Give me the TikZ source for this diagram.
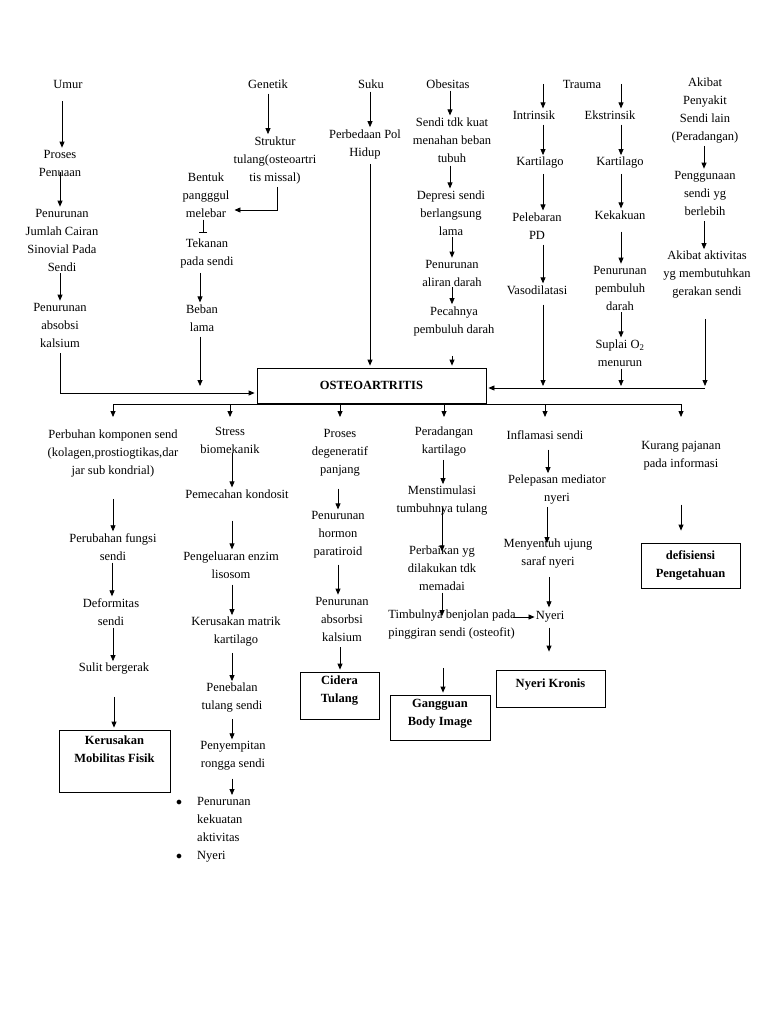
\documentclass[tikz,border=0pt]{standalone}
\usepackage{fontspec}
\setmainfont{Liberation Serif}
\usetikzlibrary{arrows.meta,calc}
\begin{document}
\begin{tikzpicture}[x=1pt,y=-1pt,
  t/.style={font=\fontsize{12.5}{18}\selectfont,align=center,inner sep=0pt},
  bx/.style={t,draw,line width=0.8pt,font=\fontsize{12.5}{18}\selectfont\bfseries},
  arr/.style={line width=0.8pt,-{Triangle[length=6pt,width=5pt]},shorten <=5pt,shorten >=2pt},
  ln/.style={line width=0.8pt}]
\useasboundingbox[fill=white] (0,0) rectangle (768,1024);
% column 1
\node[t] (umur) at (68,84) {Umur};
\node[t] (penuaan) at (60,163) {Proses\\Penuaan};
\node[t] (cairan) at (62,240) {Penurunan\\Jumlah Cairan\\Sinovial Pada\\Sendi};
\node[t] (absobsi) at (60,325) {Penurunan\\absobsi\\kalsium};
% genetik
\node[t] (genetik) at (268,84) {Genetik};
\node[t] (struktur) at (275,160) {Struktur\\tulang(osteoartri\\tis missal)};
\node[t] (bentuk) at (206,195) {Bentuk\\pangggul\\melebar};
\node[t] (tekanan) at (207,253) {Tekanan\\pada sendi};
\node[t] (beban) at (202,318) {Beban\\lama};
% suku
\node[t] (suku) at (371,84) {Suku};
\node[t] (pola) at (365,144) {Perbedaan Pol\\Hidup};
% box
\node[bx,minimum width=229,minimum height=35] (osteo) at (371.5,385.5) {OSTEOARTRITIS};
\coordinate (rl) at (0,388);
\coordinate (ll) at (0,393);
% obesitas
\node[t] (obes) at (448,84) {Obesitas};
\node[t] (tdkkuat) at (452,140) {Sendi tdk kuat\\menahan beban\\tubuh};
\node[t] (depresi) at (451,213) {Depresi sendi\\berlangsung\\lama};
\node[t] (aliran) at (452,273) {Penurunan\\aliran darah};
\node[t] (pecah) at (454,321) {Pecahnya\\pembuluh darah};
% trauma
\node[t] (trauma) at (582,84) {Trauma};
\coordinate (tri) at (543,84);
\coordinate (tre) at (621,84);
\node[t] (intr) at (534,115) {Intrinsik};
\node[t] (ekst) at (610,115) {Ekstrinsik};
\node[t] (kart1) at (540,163) {Kartilago};
\node[t] (kart2) at (620,163) {Kartilago};
\node[t] (pelebaran) at (537,226) {Pelebaran\\PD};
\node[t] (kekakuan) at (620,215) {Kekakuan};
\node[t] (vaso) at (537,290) {Vasodilatasi};
\node[t] (pembuluh) at (620,288) {Penurunan\\pembuluh\\darah};
\node[t] (suplai) at (620,353) {Suplai O\textsubscript{2}\\menurun};
% akibat
\node[t] (akibat) at (705,111) {Akibat\\Penyakit\\Sendi lain\\(Peradangan)};
\node[t] (guna) at (705,193) {Penggunaan\\sendi yg\\berlebih};
\node[t] (aktiv) at (707,275) {Akibat aktivitas\\yg membutuhkan\\gerakan sendi};
% top arrows
\draw[arr,shorten <=13pt] (umur.south -| cairan) -- (penuaan.north -| cairan);
\draw[arr,shorten <=-4pt] (penuaan.south) -- (cairan.north -| penuaan);
\draw[arr,shorten <=2pt] (cairan.south -| absobsi) -- (absobsi.north);
\draw[ln,shorten <=6pt] (absobsi.south) -- (absobsi.south |- ll);
\draw[arr,shorten <=0pt] (absobsi.south |- ll) -- ($(osteo.west)+(0,7.5)$);
\draw[arr] (beban.south -| 200,0) -- (200,388);
\draw[arr] (genetik.south) -- (struktur.north -| genetik);
\draw[arr,shorten <=3pt] (struktur.south -| 277,0) |- ($(bentuk.east)+(3,15)$);
\draw[line width=0.8pt,-{Bar[width=8pt]},shorten <=2pt,shorten >=5pt] (bentuk.south -| 203,0) -- (tekanan.north -| 203,0);
\draw[arr] (tekanan.south -| 200,0) -- (beban.north -| 200,0);
\draw[arr,shorten <=3pt] (suku.south -| 370,0) -- (pola.north -| 370,0);
\draw[arr] (pola.south -| 370,0) -- (osteo.north -| 370,0);
\draw[arr,shorten <=2pt] (obes.south -| 450,0) -- (tdkkuat.north -| 450,0);
\draw[arr,shorten <=3pt] (tdkkuat.south -| 450,0) -- (depresi.north -| 450,0);
\draw[arr,shorten <=1pt] (depresi.south -| 452,0) -- (aliran.north -| 452,0);
\draw[arr,shorten <=1pt] (aliran.south -| 452,0) -- (pecah.north -| 452,0);
\draw[arr,shorten <=20pt] (pecah.south -| 452,0) -- (osteo.north -| 452,0);
\draw[arr,shorten <=0pt] (tri) -- (intr.north -| tri);
\draw[arr,shorten <=0pt] (tre) -- (ekst.north -| tre);
\draw[arr] (intr.south -| tri) -- (kart1.north -| tri);
\draw[arr] (kart1.south -| tri) -- (pelebaran.north -| tri);
\draw[arr] (pelebaran.south -| tri) -- (vaso.north -| tri);
\draw[arr,shorten <=10pt] (vaso.south -| tri) -- (rl -| tri);
\draw[arr] (ekst.south -| tre) -- (kart2.north -| tre);
\draw[arr] (kart2.south -| tre) -- (kekakuan.north -| tre);
\draw[arr,shorten <=12pt] (kekakuan.south -| tre) -- (pembuluh.north -| tre);
\draw[arr,shorten <=2pt] (pembuluh.south -| tre) -- (suplai.north -| tre);
\draw[arr,shorten <=2pt] (suplai.south -| tre) -- (rl -| tre);
\draw[arr,shorten <=2pt] (akibat.south -| 704,0) -- (guna.north -| 704,0);
\draw[arr,shorten <=6pt] (guna.south -| 704,0) -- (aktiv.north -| 704,0);
\draw[arr,shorten <=20pt] (aktiv.south -| 705,0) -- (rl -| 705,0);
\draw[arr,shorten <=0pt] (rl -| 705,0) -- ($(osteo.east)+(0,2.5)$);
% lower nodes
\node[t] (perb) at (113,453) {Perbuhan komponen send\\(kolagen,prostiogtikas,dar\\jar sub kondrial)};
\node[t] (stress) at (230,440) {Stress\\biomekanik};
\node[t] (degen) at (340,453) {Proses\\degeneratif\\panjang};
\node[t] (perad) at (444,442) {Peradangan\\kartilago};
\node[t] (inflam) at (545,435) {Inflamasi sendi};
\node[t] (kurang) at (681,456) {Kurang pajanan\\pada informasi};
\draw[ln] (perb.north |- 0,404) -- (kurang.north |- 0,404);
\foreach \n in {perb,stress,degen,perad,inflam,kurang}
  \draw[arr,shorten <=0pt] (\n.north |- 0,404) -- ++(0,15);
% col1
\node[t] (fungsi) at (113,547) {Perubahan fungsi\\sendi};
\node[t] (deform) at (111,612) {Deformitas\\sendi};
\node[t] (sulit) at (114,669) {Sulit bergerak};
\node[bx,minimum width=111,minimum height=62,text depth=24pt] (kmf) at (114.5,761) {Kerusakan\\Mobilitas Fisik};
\draw[arr,shorten <=22pt] (perb.south -| 113,0) -- (fungsi.north -| 113,0);
\draw[arr,shorten <=2pt] (fungsi.south -| 112,0) -- (deform.north -| 112,0);
\draw[arr,shorten <=2pt] (deform.south -| 113,0) -- (sulit.north -| 113,0);
\draw[arr,shorten <=22pt] (sulit.south -| 114,0) -- (kmf.north -| 114,0);
% col2
\node[t] (kondo) at (237,494) {Pemecahan kondosit};
\node[t] (enzim) at (231,565) {Pengeluaran enzim\\lisosom};
\node[t] (matrik) at (236,632) {Kerusakan matrik\\kartilago};
\node[t] (tebal) at (232,698) {Penebalan\\tulang sendi};
\node[t] (sempit) at (233,756) {Penyempitan\\rongga sendi};
\node[t,align=left,anchor=north west] (bullets) at (176,797) {%
  \makebox[21pt][l]{$\bullet$}Penurunan\\\hspace*{21pt}kekuatan\\\hspace*{21pt}aktivitas\\\makebox[21pt][l]{$\bullet$}Nyeri};
\draw[arr,shorten <=0pt] (stress.south -| 232,0) -- (kondo.north -| 232,0);
\draw[arr,shorten <=22pt] (kondo.south -| 232,0) -- (enzim.north -| 232,0);
\draw[arr,shorten <=6pt] (enzim.south -| 232,0) -- (matrik.north -| 232,0);
\draw[arr,shorten <=6pt] (matrik.south -| 232,0) -- (tebal.north -| 232,0);
\draw[arr,shorten <=6pt] (tebal.south -| 232,0) -- (sempit.north -| 232,0);
\draw[arr,shorten <=8pt] (sempit.south -| 232,0) -- (bullets.north -| 232,0);
% col3
\node[t] (hormon) at (338,535) {Penurunan\\hormon\\paratiroid};
\node[t] (kalsium) at (342,619) {Penurunan\\absorbsi\\kalsium};
\node[bx,minimum width=79,minimum height=47,text depth=12pt] (cidera) at (339.5,695.5) {Cidera\\Tulang};
\draw[arr,shorten <=12pt] (degen.south -| 338,0) -- (hormon.north -| 338,0);
\draw[arr,shorten <=6pt] (hormon.south -| 338,0) -- (kalsium.north -| 338,0);
\draw[arr,shorten <=6pt] (kalsium.south -| 340,0) -- (cidera.north -| 340,0);
% col4
\node[t] (stimul) at (442,501) {Menstimulasi\\tumbuhnya tulang};
\node[t] (baik) at (442,568) {Perbaikan yg\\dilakukan tdk\\memadai};
\node[t,align=left] (timbul) at (452,625) {Timbulnya benjolan pada\\pinggiran sendi (osteofit)};
\node[bx,minimum width=100,minimum height=45,text depth=10pt] (gbi) at (440,717.5) {Gangguan\\Body Image};
\draw[arr,shorten <=3pt] (perad.south -| 443,0) -- (stimul.north -| 443,0);
\draw[arr,shorten <=-8pt,shorten >=-6pt] (stimul.south -| 442,0) -- (baik.north -| 442,0);
\draw[arr,shorten <=2pt,shorten >=-6pt] (baik.south -| 442,0) -- (timbul.north -| 442,0);
\draw[arr,shorten <=28pt] (timbul.south -| 443,0) -- (gbi.north -| 443,0);
% col5
\node[t] (lepas) at (557,490) {Pelepasan mediator\\nyeri};
\node[t] (sentuh) at (548,554) {Menyentuh ujung\\saraf nyeri};
\node[t] (nyeri) at (550,617) {Nyeri};
\node[bx,minimum width=109,minimum height=37,text depth=10pt] (kronis) at (550.5,688.5) {Nyeri Kronis};
\draw[arr,shorten <=10pt] (inflam.south -| 548,0) -- (lepas.north -| 548,0);
\draw[arr,shorten <=2pt,shorten >=-4pt] (lepas.south -| 547,0) -- (sentuh.north -| 547,0);
\draw[arr,shorten <=8pt,shorten >=4pt] (sentuh.south -| 549,0) -- (nyeri.north -| 549,0);
\draw[arr,shorten <=5pt,shorten >=18pt] (nyeri.south -| 549,0) -- (kronis.north -| 549,0);
\draw[arr,shorten <=-3pt,shorten >=1pt] (timbul.north east |- nyeri) -- (nyeri.west);
% col6
\node[bx,minimum width=99,minimum height=45] (def) at (690.5,565.5) {defisiensi\\Pengetahuan};
\draw[arr,shorten <=34pt,shorten >=12pt] (kurang.south -| 681,0) -- (def.north -| 681,0);
\end{tikzpicture}
\end{document}
